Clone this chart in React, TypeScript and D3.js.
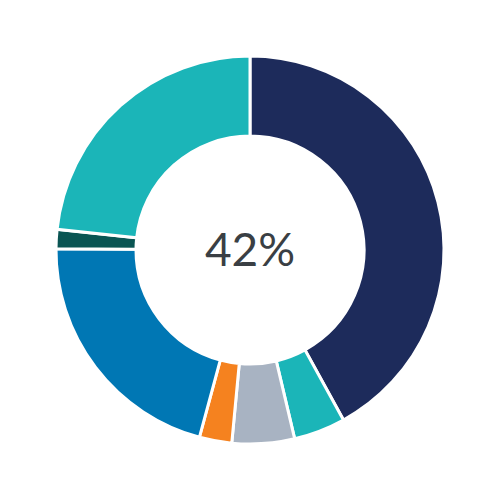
import * as d3 from "d3";
import { useEffect, useRef } from "react";

const labels = ["A", "B", "C", "D", "E", "F", "G"];
const values = [42, 4.3, 5.2, 2.7, 20.9, 1.6, 23.3];
const colors = ["#1d2b5b", "#1bb5b8", "#a8b3c2", "#f5821f", "#0077b4", "#0a5553", "#1bb5b8"];
const centerLabel = "42%";

export default function App() {
  const ref = useRef<SVGSVGElement | null>(null);

  useEffect(() => {
    const width = 500;
    const height = 500;
    const svg = d3.select(ref.current);
    svg.selectAll("*").remove();

    const g = svg.append("g").attr("transform", `translate(${width / 2},${height / 2})`);

    const pie = d3
      .pie<number>()
      .sort(null)
      .value((d) => d);
    const arc = d3.arc<d3.PieArcDatum<number>>().innerRadius(114).outerRadius(194);

    g.selectAll("path")
      .data(pie(values))
      .enter()
      .append("path")
      .attr("d", arc)
      .attr("fill", (_, i) => colors[i])
      .attr("stroke", "#fff")
      .attr("stroke-width", 3)
      .append("title")
      .text((_, i) => labels[i]);

    g.append("text")
      .attr("text-anchor", "middle")
      .attr("dy", "0.35em")
      .attr("font-family", "Lato, sans-serif")
      .attr("font-weight", 400)
      .attr("font-size", 46)
      .attr("fill", "#3a3f44")
      .text(centerLabel);
  }, []);

  return (
    <svg
      ref={ref}
      width={500}
      height={500}
      style={{ position: "absolute", left: 0, top: 0 }}
    />
  );
}
